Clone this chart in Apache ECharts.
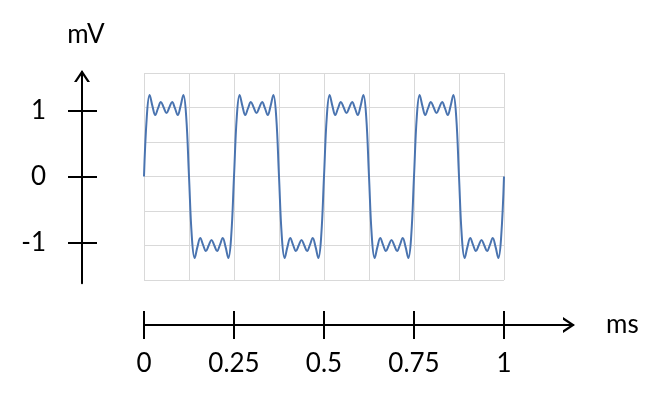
<!DOCTYPE html>
<html><head><meta charset="utf-8">
<script src="https://cdn.jsdelivr.net/npm/echarts@6/dist/echarts.min.js"></script>
<style>html,body{margin:0;padding:0;background:#fff}#c{width:663px;height:404px}</style>
</head><body><div id="c"></div>
<script>
const voltageMv = [
  0, 0.87, 1.18, 1.02, 0.89, 0.99, 1.08, 1.00, 0.92, 1.00, 1.08, 0.99, 0.89, 1.02, 1.18, 0.87,
  0, -0.87, -1.18, -1.02, -0.89, -0.99, -1.08, -1.00, -0.92, -1.00, -1.08, -0.99, -0.89, -1.02, -1.18, -0.87,
  0, 0.87, 1.18, 1.02, 0.89, 0.99, 1.08, 1.00, 0.92, 1.00, 1.08, 0.99, 0.89, 1.02, 1.18, 0.87,
  0, -0.87, -1.18, -1.02, -0.89, -0.99, -1.08, -1.00, -0.92, -1.00, -1.08, -0.99, -0.89, -1.02, -1.18, -0.87,
  0, 0.87, 1.18, 1.02, 0.89, 0.99, 1.08, 1.00, 0.92, 1.00, 1.08, 0.99, 0.89, 1.02, 1.18, 0.87,
  0, -0.87, -1.18, -1.02, -0.89, -0.99, -1.08, -1.00, -0.92, -1.00, -1.08, -0.99, -0.89, -1.02, -1.18, -0.87,
  0, 0.87, 1.18, 1.02, 0.89, 0.99, 1.08, 1.00, 0.92, 1.00, 1.08, 0.99, 0.89, 1.02, 1.18, 0.87,
  0, -0.87, -1.18, -1.02, -0.89, -0.99, -1.08, -1.00, -0.92, -1.00, -1.08, -0.99, -0.89, -1.02, -1.18, -0.87,
  0
];
const sampleStepMs = 1 / 128;
const xTickValues = [0, 0.25, 0.5, 0.75, 1];
const yTickValues = [-1, 0, 1];
const xAxisName = 'ms';
const yAxisName = 'mV';

const points = voltageMv.map((v, i) => [i * sampleStepMs, v]);

const FONT = 'Lato';
const FS = 26;
const arrowPath = 'path://M8,0 L16,12 L13.33,12 L8,4 L2.67,12 L0,12 Z';
const axisColor = '#000';

const chart = echarts.init(document.getElementById('c'), null, {renderer: 'canvas'});
chart.setOption({
  animation: false,
  backgroundColor: '#fff',
  grid: [
    {left: 144, top: 73, width: 360, height: 207},
    {left: 144, top: 305, width: 429, height: 20},
    {left: 82, top: 72, width: 10, height: 211.3}
  ],
  xAxis: [
    {gridIndex: 0, type: 'value', min: 0, max: 1, interval: 0.125,
     axisLine: {show: false}, axisTick: {show: false}, axisLabel: {show: false},
     splitLine: {show: true, lineStyle: {color: '#D9D9D9', width: 1}}},
    {gridIndex: 1, type: 'value', position: 'bottom', min: 0, max: 429 / 360,
     name: xAxisName, nameLocation: 'end', nameGap: 33,
     nameTextStyle: {fontFamily: FONT, fontSize: FS, color: axisColor},
     axisLine: {onZero: false, symbol: ['none', arrowPath], symbolSize: [16, 12], symbolOffset: [0, -4],
       lineStyle: {color: axisColor, width: 2}},
     axisTick: {show: true, customValues: xTickValues, length: 14, inside: false,
       lineStyle: {color: axisColor, width: 2}},
     axisLabel: {show: true, customValues: xTickValues, margin: 26, fontFamily: FONT, fontSize: FS, color: axisColor},
     splitLine: {show: false}},
    {gridIndex: 1, type: 'value', position: 'bottom', min: 0, max: 429 / 360,
     axisLine: {show: false, onZero: false},
     axisTick: {show: true, customValues: xTickValues, length: 14, inside: true,
       lineStyle: {color: axisColor, width: 2}},
     axisLabel: {show: false}, splitLine: {show: false}},
    {gridIndex: 2, type: 'value', min: 0, max: 1, show: false}
  ],
  yAxis: [
    {gridIndex: 0, type: 'value', min: -1.5, max: 1.5, interval: 0.5,
     axisLine: {show: false}, axisTick: {show: false}, axisLabel: {show: false},
     splitLine: {show: true, lineStyle: {color: '#D9D9D9', width: 1}}},
    {gridIndex: 1, type: 'value', min: 0, max: 1, show: false},
    {gridIndex: 2, type: 'value', position: 'left', min: -1.623, max: 1.594,
     name: yAxisName, nameLocation: 'end', nameGap: 24,
     nameTextStyle: {fontFamily: FONT, fontSize: FS, color: axisColor, align: 'center', padding: [0, 0, 0, 8]},
     axisLine: {onZero: false, symbol: ['none', arrowPath], symbolSize: [16, 12], symbolOffset: [0, -4],
       lineStyle: {color: axisColor, width: 2}},
     axisTick: {show: true, customValues: yTickValues, length: 14, inside: false,
       lineStyle: {color: axisColor, width: 2}},
     axisLabel: {show: true, customValues: yTickValues, margin: 36, fontFamily: FONT, fontSize: FS, color: axisColor},
     splitLine: {show: false}},
    {gridIndex: 2, type: 'value', position: 'left', min: -1.623, max: 1.594,
     axisLine: {show: false, onZero: false},
     axisTick: {show: true, customValues: yTickValues, length: 15, inside: true,
       lineStyle: {color: axisColor, width: 2}},
     axisLabel: {show: false}, splitLine: {show: false}}
  ],
  series: [{
    type: 'line', xAxisIndex: 0, yAxisIndex: 0, data: points,
    showSymbol: false, smooth: 0.4,
    lineStyle: {color: '#4A74B0', width: 2}
  }]
});
</script></body></html>
